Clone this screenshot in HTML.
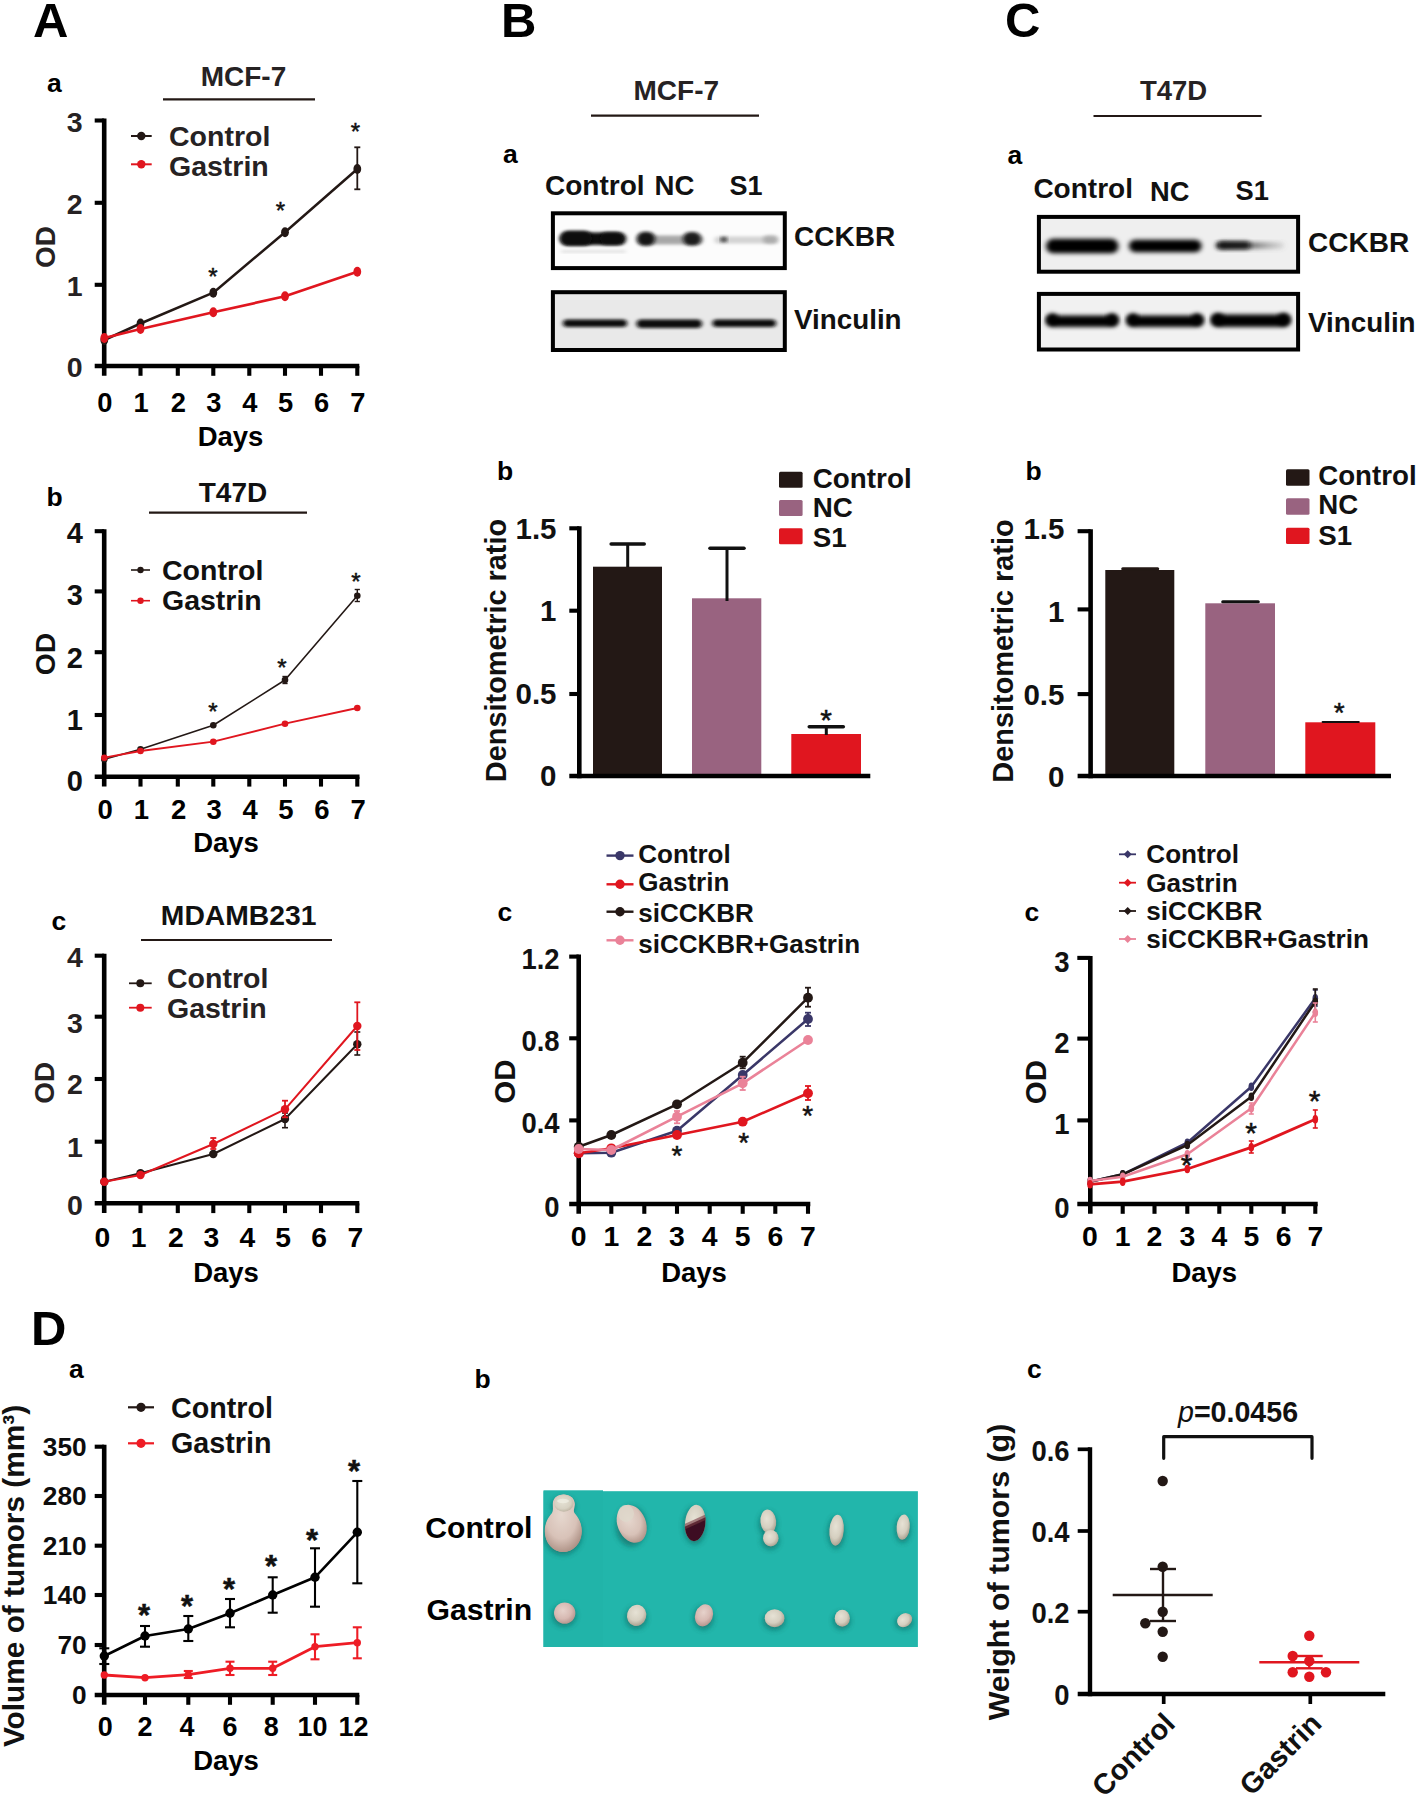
<!DOCTYPE html>
<html lang="en"><head><meta charset="utf-8"><title>Figure</title>
<style>html,body{margin:0;padding:0;background:#fff}svg{display:block}</style></head><body>
<svg width="1418" height="1796" viewBox="0 0 1418 1796" font-family='"Liberation Sans", Arial, sans-serif'>
<defs>
<filter id="b1" x="-20%" y="-50%" width="140%" height="200%"><feGaussianBlur stdDeviation="2.2 1.6"/></filter>
<filter id="b2" x="-20%" y="-50%" width="140%" height="200%"><feGaussianBlur stdDeviation="2.6 2.2"/></filter>
<filter id="b3" x="-20%" y="-20%" width="140%" height="140%"><feGaussianBlur stdDeviation="0.7"/></filter>
<filter id="b4" x="-30%" y="-30%" width="160%" height="160%"><feGaussianBlur stdDeviation="2.5"/></filter>
<radialGradient id="tum" cx="42%" cy="38%" r="65%"><stop offset="0" stop-color="#e6e2d5"/><stop offset="0.6" stop-color="#d5cfc0"/><stop offset="1" stop-color="#a89f8e"/></radialGradient>
<radialGradient id="tumb" cx="45%" cy="35%" r="70%"><stop offset="0" stop-color="#e6d8cf"/><stop offset="0.6" stop-color="#d8c2b8"/><stop offset="1" stop-color="#a98c80"/></radialGradient>
<radialGradient id="tumh" cx="45%" cy="40%" r="65%"><stop offset="0" stop-color="#e6e4d6"/><stop offset="0.65" stop-color="#d6d2c2"/><stop offset="1" stop-color="#b5ab98"/></radialGradient>
<radialGradient id="tump" cx="42%" cy="38%" r="65%"><stop offset="0" stop-color="#e6d2cb"/><stop offset="0.6" stop-color="#d7b9b2"/><stop offset="1" stop-color="#b3938c"/></radialGradient>
<linearGradient id="fade" x1="0" x2="1" y1="0" y2="0"><stop offset="0" stop-color="#222" stop-opacity="0.95"/><stop offset="0.5" stop-color="#333" stop-opacity="0.7"/><stop offset="1" stop-color="#666" stop-opacity="0.15"/></linearGradient>
</defs>
<rect width="1418" height="1796" fill="#fff"/>
<text x="33.0" y="37.0" font-size="49" font-weight="bold" text-anchor="start" fill="#000">A</text>
<text x="501.0" y="37.0" font-size="49" font-weight="bold" text-anchor="start" fill="#000">B</text>
<text x="1005.0" y="37.0" font-size="49" font-weight="bold" text-anchor="start" fill="#000">C</text>
<text x="31.0" y="1344.5" font-size="49" font-weight="bold" text-anchor="start" fill="#000">D</text>
<text x="47.0" y="91.7" font-size="26.5" font-weight="bold" text-anchor="start" fill="#000">a</text>
<text x="243.5" y="86.0" font-size="28" font-weight="bold" text-anchor="middle" fill="#262223">MCF-7</text>
<line x1="163.0" y1="99.3" x2="315.0" y2="99.3" stroke="#231815" stroke-width="2.2" stroke-linecap="butt"/>
<line x1="104.2" y1="118.5" x2="104.2" y2="375.8" stroke="#000" stroke-width="4.6" stroke-linecap="butt"/>
<line x1="94.7" y1="366.0" x2="359.3" y2="366.0" stroke="#000" stroke-width="4.6" stroke-linecap="butt"/>
<line x1="94.7" y1="120.5" x2="104.2" y2="120.5" stroke="#000" stroke-width="4.1" stroke-linecap="butt"/>
<line x1="94.7" y1="202.8" x2="104.2" y2="202.8" stroke="#000" stroke-width="4.1" stroke-linecap="butt"/>
<line x1="94.7" y1="284.8" x2="104.2" y2="284.8" stroke="#000" stroke-width="4.1" stroke-linecap="butt"/>
<line x1="140.5" y1="366.0" x2="140.5" y2="375.8" stroke="#000" stroke-width="4.1" stroke-linecap="butt"/>
<line x1="177.8" y1="366.0" x2="177.8" y2="375.8" stroke="#000" stroke-width="4.1" stroke-linecap="butt"/>
<line x1="213.3" y1="366.0" x2="213.3" y2="375.8" stroke="#000" stroke-width="4.1" stroke-linecap="butt"/>
<line x1="249.3" y1="366.0" x2="249.3" y2="375.8" stroke="#000" stroke-width="4.1" stroke-linecap="butt"/>
<line x1="285.0" y1="366.0" x2="285.0" y2="375.8" stroke="#000" stroke-width="4.1" stroke-linecap="butt"/>
<line x1="321.0" y1="366.0" x2="321.0" y2="375.8" stroke="#000" stroke-width="4.1" stroke-linecap="butt"/>
<line x1="357.3" y1="366.0" x2="357.3" y2="375.8" stroke="#000" stroke-width="4.1" stroke-linecap="butt"/>
<text x="82.6" y="131.5" font-size="28.5" font-weight="bold" text-anchor="end" fill="#262223">3</text>
<text x="82.6" y="213.8" font-size="28.5" font-weight="bold" text-anchor="end" fill="#262223">2</text>
<text x="82.6" y="295.8" font-size="28.5" font-weight="bold" text-anchor="end" fill="#262223">1</text>
<text x="82.6" y="377.0" font-size="28.5" font-weight="bold" text-anchor="end" fill="#262223">0</text>
<text x="0" y="0" transform="translate(104.9 411.6) scale(1.0 1)" font-size="27.3" font-weight="bold" text-anchor="middle" fill="#000">0</text>
<text x="0" y="0" transform="translate(141.1 411.6) scale(1.0 1)" font-size="27.3" font-weight="bold" text-anchor="middle" fill="#000">1</text>
<text x="0" y="0" transform="translate(178.4 411.6) scale(1.0 1)" font-size="27.3" font-weight="bold" text-anchor="middle" fill="#000">2</text>
<text x="0" y="0" transform="translate(213.9 411.6) scale(1.0 1)" font-size="27.3" font-weight="bold" text-anchor="middle" fill="#000">3</text>
<text x="0" y="0" transform="translate(249.9 411.6) scale(1.0 1)" font-size="27.3" font-weight="bold" text-anchor="middle" fill="#000">4</text>
<text x="0" y="0" transform="translate(285.6 411.6) scale(1.0 1)" font-size="27.3" font-weight="bold" text-anchor="middle" fill="#000">5</text>
<text x="0" y="0" transform="translate(321.6 411.6) scale(1.0 1)" font-size="27.3" font-weight="bold" text-anchor="middle" fill="#000">6</text>
<text x="0" y="0" transform="translate(357.9 411.6) scale(1.0 1)" font-size="27.3" font-weight="bold" text-anchor="middle" fill="#000">7</text>
<text x="230.5" y="446.0" font-size="27.5" font-weight="bold" text-anchor="middle" fill="#000">Days</text>
<text x="0" y="0" transform="translate(54.8 247.0) rotate(-90)" font-size="28" font-weight="bold" text-anchor="middle" fill="#262223">OD</text>
<line x1="131.0" y1="136.0" x2="151.7" y2="136.0" stroke="#231815" stroke-width="2" stroke-linecap="butt"/>
<circle cx="141.3" cy="136.0" r="4.2" fill="#231815"/>
<line x1="131.0" y1="164.3" x2="151.7" y2="164.3" stroke="#e0161f" stroke-width="2" stroke-linecap="butt"/>
<circle cx="141.3" cy="164.3" r="4.2" fill="#e0161f"/>
<text x="169.0" y="146.0" font-size="28.5" font-weight="bold" text-anchor="start" fill="#262223">Control</text>
<text x="169.0" y="175.5" font-size="28.5" font-weight="bold" text-anchor="start" fill="#262223">Gastrin</text>
<line x1="357.3" y1="147.3" x2="357.3" y2="189.3" stroke="#231815" stroke-width="1.8" stroke-linecap="butt"/>
<line x1="354.3" y1="147.3" x2="360.3" y2="147.3" stroke="#231815" stroke-width="1.8" stroke-linecap="butt"/>
<line x1="354.3" y1="189.3" x2="360.3" y2="189.3" stroke="#231815" stroke-width="1.8" stroke-linecap="butt"/>
<polyline points="104.3,340.0 140.5,323.5 213.3,292.7 285.0,232.3 357.3,169.0" fill="none" stroke="#231815" stroke-width="2.5" stroke-linejoin="round"/>
<ellipse cx="104.3" cy="340.0" rx="3.9" ry="5" fill="#231815"/>
<ellipse cx="140.5" cy="323.5" rx="3.9" ry="5" fill="#231815"/>
<ellipse cx="213.3" cy="292.7" rx="3.9" ry="5" fill="#231815"/>
<ellipse cx="285.0" cy="232.3" rx="3.9" ry="5" fill="#231815"/>
<ellipse cx="357.3" cy="169.0" rx="3.9" ry="5" fill="#231815"/>
<polyline points="104.3,338.0 140.5,329.0 213.3,312.3 285.0,296.3 357.3,271.7" fill="none" stroke="#e0161f" stroke-width="2.7" stroke-linejoin="round"/>
<ellipse cx="104.3" cy="338.0" rx="3.9" ry="5" fill="#e0161f"/>
<ellipse cx="140.5" cy="329.0" rx="3.9" ry="5" fill="#e0161f"/>
<ellipse cx="213.3" cy="312.3" rx="3.9" ry="5" fill="#e0161f"/>
<ellipse cx="285.0" cy="296.3" rx="3.9" ry="5" fill="#e0161f"/>
<ellipse cx="357.3" cy="271.7" rx="3.9" ry="5" fill="#e0161f"/>
<text x="213.0" y="285.1" font-size="24" font-weight="normal" text-anchor="middle" fill="#111" stroke="#111" stroke-width="0.5">*</text>
<text x="280.5" y="218.6" font-size="24" font-weight="normal" text-anchor="middle" fill="#111" stroke="#111" stroke-width="0.5">*</text>
<text x="355.5" y="139.6" font-size="24" font-weight="normal" text-anchor="middle" fill="#111" stroke="#111" stroke-width="0.5">*</text>
<text x="46.5" y="506.2" font-size="26.5" font-weight="bold" text-anchor="start" fill="#000">b</text>
<text x="233.0" y="501.5" font-size="28" font-weight="bold" text-anchor="middle" fill="#111">T47D</text>
<line x1="149.0" y1="512.7" x2="307.0" y2="512.7" stroke="#231815" stroke-width="2.2" stroke-linecap="butt"/>
<line x1="104.2" y1="529.2" x2="104.2" y2="786.6" stroke="#000" stroke-width="4.6" stroke-linecap="butt"/>
<line x1="94.7" y1="776.8" x2="359.5" y2="776.8" stroke="#000" stroke-width="4.6" stroke-linecap="butt"/>
<line x1="94.7" y1="531.2" x2="104.2" y2="531.2" stroke="#000" stroke-width="4.1" stroke-linecap="butt"/>
<line x1="94.7" y1="591.4" x2="104.2" y2="591.4" stroke="#000" stroke-width="4.1" stroke-linecap="butt"/>
<line x1="94.7" y1="652.2" x2="104.2" y2="652.2" stroke="#000" stroke-width="4.1" stroke-linecap="butt"/>
<line x1="94.7" y1="715.0" x2="104.2" y2="715.0" stroke="#000" stroke-width="4.1" stroke-linecap="butt"/>
<line x1="140.5" y1="776.8" x2="140.5" y2="786.6" stroke="#000" stroke-width="4.1" stroke-linecap="butt"/>
<line x1="177.8" y1="776.8" x2="177.8" y2="786.6" stroke="#000" stroke-width="4.1" stroke-linecap="butt"/>
<line x1="213.3" y1="776.8" x2="213.3" y2="786.6" stroke="#000" stroke-width="4.1" stroke-linecap="butt"/>
<line x1="249.3" y1="776.8" x2="249.3" y2="786.6" stroke="#000" stroke-width="4.1" stroke-linecap="butt"/>
<line x1="285.0" y1="776.8" x2="285.0" y2="786.6" stroke="#000" stroke-width="4.1" stroke-linecap="butt"/>
<line x1="321.0" y1="776.8" x2="321.0" y2="786.6" stroke="#000" stroke-width="4.1" stroke-linecap="butt"/>
<line x1="357.3" y1="776.8" x2="357.3" y2="786.6" stroke="#000" stroke-width="4.1" stroke-linecap="butt"/>
<text x="82.8" y="542.8" font-size="29" font-weight="bold" text-anchor="end" fill="#111">4</text>
<text x="82.8" y="605.0" font-size="29" font-weight="bold" text-anchor="end" fill="#111">3</text>
<text x="82.8" y="667.6" font-size="29" font-weight="bold" text-anchor="end" fill="#111">2</text>
<text x="82.8" y="729.6" font-size="29" font-weight="bold" text-anchor="end" fill="#111">1</text>
<text x="82.8" y="791.0" font-size="29" font-weight="bold" text-anchor="end" fill="#111">0</text>
<text x="0" y="0" transform="translate(105.1 818.8) scale(1.0 1)" font-size="27.5" font-weight="bold" text-anchor="middle" fill="#000">0</text>
<text x="0" y="0" transform="translate(141.3 818.8) scale(1.0 1)" font-size="27.5" font-weight="bold" text-anchor="middle" fill="#000">1</text>
<text x="0" y="0" transform="translate(178.6 818.8) scale(1.0 1)" font-size="27.5" font-weight="bold" text-anchor="middle" fill="#000">2</text>
<text x="0" y="0" transform="translate(214.1 818.8) scale(1.0 1)" font-size="27.5" font-weight="bold" text-anchor="middle" fill="#000">3</text>
<text x="0" y="0" transform="translate(250.1 818.8) scale(1.0 1)" font-size="27.5" font-weight="bold" text-anchor="middle" fill="#000">4</text>
<text x="0" y="0" transform="translate(285.8 818.8) scale(1.0 1)" font-size="27.5" font-weight="bold" text-anchor="middle" fill="#000">5</text>
<text x="0" y="0" transform="translate(321.8 818.8) scale(1.0 1)" font-size="27.5" font-weight="bold" text-anchor="middle" fill="#000">6</text>
<text x="0" y="0" transform="translate(358.1 818.8) scale(1.0 1)" font-size="27.5" font-weight="bold" text-anchor="middle" fill="#000">7</text>
<text x="226.0" y="851.7" font-size="27.5" font-weight="bold" text-anchor="middle" fill="#000">Days</text>
<text x="0" y="0" transform="translate(54.8 654.0) rotate(-90)" font-size="28.3" font-weight="bold" text-anchor="middle" fill="#111">OD</text>
<line x1="131.0" y1="570.0" x2="150.0" y2="570.0" stroke="#231815" stroke-width="1.6" stroke-linecap="butt"/>
<circle cx="140.5" cy="570.0" r="3.2" fill="#231815"/>
<line x1="131.0" y1="600.7" x2="150.0" y2="600.7" stroke="#e0161f" stroke-width="1.6" stroke-linecap="butt"/>
<circle cx="140.5" cy="600.7" r="3.2" fill="#e0161f"/>
<text x="162.0" y="579.5" font-size="28.5" font-weight="bold" text-anchor="start" fill="#111">Control</text>
<text x="162.0" y="610.0" font-size="28.5" font-weight="bold" text-anchor="start" fill="#111">Gastrin</text>
<line x1="357.3" y1="589.5" x2="357.3" y2="601.5" stroke="#231815" stroke-width="1.4" stroke-linecap="butt"/>
<line x1="354.7" y1="589.5" x2="359.9" y2="589.5" stroke="#231815" stroke-width="1.4" stroke-linecap="butt"/>
<line x1="354.7" y1="601.5" x2="359.9" y2="601.5" stroke="#231815" stroke-width="1.4" stroke-linecap="butt"/>
<line x1="285.0" y1="676.5" x2="285.0" y2="683.5" stroke="#231815" stroke-width="1.4" stroke-linecap="butt"/>
<line x1="282.4" y1="676.5" x2="287.6" y2="676.5" stroke="#231815" stroke-width="1.4" stroke-linecap="butt"/>
<line x1="282.4" y1="683.5" x2="287.6" y2="683.5" stroke="#231815" stroke-width="1.4" stroke-linecap="butt"/>
<polyline points="104.3,759.3 140.5,749.3 213.3,725.3 285.0,680.0 357.3,595.7" fill="none" stroke="#231815" stroke-width="1.6" stroke-linejoin="round"/>
<circle cx="104.3" cy="759.3" r="3.3" fill="#231815"/>
<circle cx="140.5" cy="749.3" r="3.3" fill="#231815"/>
<circle cx="213.3" cy="725.3" r="3.3" fill="#231815"/>
<circle cx="285.0" cy="680.0" r="3.3" fill="#231815"/>
<circle cx="357.3" cy="595.7" r="3.3" fill="#231815"/>
<polyline points="104.3,757.7 140.5,751.0 213.3,741.7 285.0,723.7 357.3,708.0" fill="none" stroke="#e0161f" stroke-width="1.8" stroke-linejoin="round"/>
<circle cx="104.3" cy="757.7" r="3.3" fill="#e0161f"/>
<circle cx="140.5" cy="751.0" r="3.3" fill="#e0161f"/>
<circle cx="213.3" cy="741.7" r="3.3" fill="#e0161f"/>
<circle cx="285.0" cy="723.7" r="3.3" fill="#e0161f"/>
<circle cx="357.3" cy="708.0" r="3.3" fill="#e0161f"/>
<text x="213.0" y="719.6" font-size="24" font-weight="normal" text-anchor="middle" fill="#111" stroke="#111" stroke-width="0.5">*</text>
<text x="282.0" y="675.6" font-size="24" font-weight="normal" text-anchor="middle" fill="#111" stroke="#111" stroke-width="0.5">*</text>
<text x="356.0" y="589.6" font-size="24" font-weight="normal" text-anchor="middle" fill="#111" stroke="#111" stroke-width="0.5">*</text>
<text x="51.5" y="929.7" font-size="26.5" font-weight="bold" text-anchor="start" fill="#000">c</text>
<text x="238.7" y="924.5" font-size="28.3" font-weight="bold" text-anchor="middle" fill="#111">MDAMB231</text>
<line x1="141.0" y1="940.0" x2="332.0" y2="940.0" stroke="#231815" stroke-width="2.2" stroke-linecap="butt"/>
<line x1="104.2" y1="953.7" x2="104.2" y2="1213.1" stroke="#000" stroke-width="4.6" stroke-linecap="butt"/>
<line x1="94.7" y1="1203.3" x2="359.3" y2="1203.3" stroke="#000" stroke-width="4.6" stroke-linecap="butt"/>
<line x1="94.7" y1="955.7" x2="104.2" y2="955.7" stroke="#000" stroke-width="4.1" stroke-linecap="butt"/>
<line x1="94.7" y1="1016.7" x2="104.2" y2="1016.7" stroke="#000" stroke-width="4.1" stroke-linecap="butt"/>
<line x1="94.7" y1="1079.0" x2="104.2" y2="1079.0" stroke="#000" stroke-width="4.1" stroke-linecap="butt"/>
<line x1="94.7" y1="1141.7" x2="104.2" y2="1141.7" stroke="#000" stroke-width="4.1" stroke-linecap="butt"/>
<line x1="140.5" y1="1203.3" x2="140.5" y2="1213.1" stroke="#000" stroke-width="4.1" stroke-linecap="butt"/>
<line x1="177.8" y1="1203.3" x2="177.8" y2="1213.1" stroke="#000" stroke-width="4.1" stroke-linecap="butt"/>
<line x1="213.3" y1="1203.3" x2="213.3" y2="1213.1" stroke="#000" stroke-width="4.1" stroke-linecap="butt"/>
<line x1="249.3" y1="1203.3" x2="249.3" y2="1213.1" stroke="#000" stroke-width="4.1" stroke-linecap="butt"/>
<line x1="285.0" y1="1203.3" x2="285.0" y2="1213.1" stroke="#000" stroke-width="4.1" stroke-linecap="butt"/>
<line x1="321.0" y1="1203.3" x2="321.0" y2="1213.1" stroke="#000" stroke-width="4.1" stroke-linecap="butt"/>
<line x1="357.3" y1="1203.3" x2="357.3" y2="1213.1" stroke="#000" stroke-width="4.1" stroke-linecap="butt"/>
<text x="82.8" y="966.9" font-size="28.5" font-weight="bold" text-anchor="end" fill="#262223">4</text>
<text x="82.8" y="1032.9" font-size="28.5" font-weight="bold" text-anchor="end" fill="#262223">3</text>
<text x="82.8" y="1094.2" font-size="28.5" font-weight="bold" text-anchor="end" fill="#262223">2</text>
<text x="82.8" y="1156.6" font-size="28.5" font-weight="bold" text-anchor="end" fill="#262223">1</text>
<text x="82.8" y="1215.3" font-size="28.5" font-weight="bold" text-anchor="end" fill="#262223">0</text>
<text x="0" y="0" transform="translate(102.3 1246.5) scale(1.0 1)" font-size="28.3" font-weight="bold" text-anchor="middle" fill="#000">0</text>
<text x="0" y="0" transform="translate(138.5 1246.5) scale(1.0 1)" font-size="28.3" font-weight="bold" text-anchor="middle" fill="#000">1</text>
<text x="0" y="0" transform="translate(175.8 1246.5) scale(1.0 1)" font-size="28.3" font-weight="bold" text-anchor="middle" fill="#000">2</text>
<text x="0" y="0" transform="translate(211.3 1246.5) scale(1.0 1)" font-size="28.3" font-weight="bold" text-anchor="middle" fill="#000">3</text>
<text x="0" y="0" transform="translate(247.3 1246.5) scale(1.0 1)" font-size="28.3" font-weight="bold" text-anchor="middle" fill="#000">4</text>
<text x="0" y="0" transform="translate(283.0 1246.5) scale(1.0 1)" font-size="28.3" font-weight="bold" text-anchor="middle" fill="#000">5</text>
<text x="0" y="0" transform="translate(319.0 1246.5) scale(1.0 1)" font-size="28.3" font-weight="bold" text-anchor="middle" fill="#000">6</text>
<text x="0" y="0" transform="translate(355.3 1246.5) scale(1.0 1)" font-size="28.3" font-weight="bold" text-anchor="middle" fill="#000">7</text>
<text x="226.0" y="1281.7" font-size="27.5" font-weight="bold" text-anchor="middle" fill="#000">Days</text>
<text x="0" y="0" transform="translate(54.3 1082.7) rotate(-90)" font-size="28" font-weight="bold" text-anchor="middle" fill="#262223">OD</text>
<line x1="129.0" y1="983.3" x2="151.7" y2="983.3" stroke="#231815" stroke-width="1.8" stroke-linecap="butt"/>
<circle cx="140.3" cy="983.3" r="4" fill="#231815"/>
<line x1="129.0" y1="1007.7" x2="151.7" y2="1007.7" stroke="#e0161f" stroke-width="1.8" stroke-linecap="butt"/>
<circle cx="140.3" cy="1007.7" r="4" fill="#e0161f"/>
<text x="167.0" y="987.5" font-size="28.5" font-weight="bold" text-anchor="start" fill="#262223">Control</text>
<text x="167.0" y="1018.3" font-size="28.5" font-weight="bold" text-anchor="start" fill="#262223">Gastrin</text>
<line x1="357.3" y1="1032.0" x2="357.3" y2="1055.0" stroke="#231815" stroke-width="1.6" stroke-linecap="butt"/>
<line x1="354.3" y1="1032.0" x2="360.3" y2="1032.0" stroke="#231815" stroke-width="1.6" stroke-linecap="butt"/>
<line x1="354.3" y1="1055.0" x2="360.3" y2="1055.0" stroke="#231815" stroke-width="1.6" stroke-linecap="butt"/>
<line x1="285.0" y1="1113.0" x2="285.0" y2="1127.7" stroke="#231815" stroke-width="1.6" stroke-linecap="butt"/>
<line x1="282.0" y1="1113.0" x2="288.0" y2="1113.0" stroke="#231815" stroke-width="1.6" stroke-linecap="butt"/>
<line x1="282.0" y1="1127.7" x2="288.0" y2="1127.7" stroke="#231815" stroke-width="1.6" stroke-linecap="butt"/>
<polyline points="104.3,1181.7 140.5,1173.3 213.3,1154.0 285.0,1119.0 357.3,1044.3" fill="none" stroke="#231815" stroke-width="2" stroke-linejoin="round"/>
<circle cx="104.3" cy="1181.7" r="4.2" fill="#231815"/>
<circle cx="140.5" cy="1173.3" r="4.2" fill="#231815"/>
<circle cx="213.3" cy="1154.0" r="4.2" fill="#231815"/>
<circle cx="285.0" cy="1119.0" r="4.2" fill="#231815"/>
<circle cx="357.3" cy="1044.3" r="4.2" fill="#231815"/>
<line x1="357.3" y1="1002.3" x2="357.3" y2="1050.0" stroke="#e0161f" stroke-width="1.8" stroke-linecap="butt"/>
<line x1="354.3" y1="1002.3" x2="360.3" y2="1002.3" stroke="#e0161f" stroke-width="1.8" stroke-linecap="butt"/>
<line x1="354.3" y1="1050.0" x2="360.3" y2="1050.0" stroke="#e0161f" stroke-width="1.8" stroke-linecap="butt"/>
<line x1="285.0" y1="1100.7" x2="285.0" y2="1117.3" stroke="#e0161f" stroke-width="1.8" stroke-linecap="butt"/>
<line x1="282.0" y1="1100.7" x2="288.0" y2="1100.7" stroke="#e0161f" stroke-width="1.8" stroke-linecap="butt"/>
<line x1="282.0" y1="1117.3" x2="288.0" y2="1117.3" stroke="#e0161f" stroke-width="1.8" stroke-linecap="butt"/>
<line x1="213.3" y1="1138.0" x2="213.3" y2="1149.0" stroke="#e0161f" stroke-width="1.8" stroke-linecap="butt"/>
<line x1="210.3" y1="1138.0" x2="216.3" y2="1138.0" stroke="#e0161f" stroke-width="1.8" stroke-linecap="butt"/>
<line x1="210.3" y1="1149.0" x2="216.3" y2="1149.0" stroke="#e0161f" stroke-width="1.8" stroke-linecap="butt"/>
<polyline points="104.3,1181.7 140.5,1175.0 213.3,1144.0 285.0,1109.3 357.3,1026.0" fill="none" stroke="#e0161f" stroke-width="2" stroke-linejoin="round"/>
<circle cx="104.3" cy="1181.7" r="4.2" fill="#e0161f"/>
<circle cx="140.5" cy="1175.0" r="4.2" fill="#e0161f"/>
<circle cx="213.3" cy="1144.0" r="4.2" fill="#e0161f"/>
<circle cx="285.0" cy="1109.3" r="4.2" fill="#e0161f"/>
<circle cx="357.3" cy="1026.0" r="4.2" fill="#e0161f"/>
<text x="69.0" y="1378.4" font-size="26.5" font-weight="bold" text-anchor="start" fill="#000">a</text>
<line x1="128.0" y1="1407.3" x2="154.0" y2="1407.3" stroke="#231815" stroke-width="2.2" stroke-linecap="butt"/>
<circle cx="141.0" cy="1407.3" r="4.6" fill="#231815"/>
<line x1="128.0" y1="1443.3" x2="154.0" y2="1443.3" stroke="#ee1c25" stroke-width="2.2" stroke-linecap="butt"/>
<circle cx="141.0" cy="1443.3" r="4.6" fill="#ee1c25"/>
<text x="171.0" y="1417.7" font-size="28.7" font-weight="bold" text-anchor="start" fill="#111">Control</text>
<text x="171.0" y="1452.7" font-size="28.7" font-weight="bold" text-anchor="start" fill="#111">Gastrin</text>
<line x1="104.2" y1="1444.7" x2="104.2" y2="1704.8" stroke="#000" stroke-width="4.6" stroke-linecap="butt"/>
<line x1="94.7" y1="1695.0" x2="359.3" y2="1695.0" stroke="#000" stroke-width="4.6" stroke-linecap="butt"/>
<line x1="94.7" y1="1446.7" x2="104.2" y2="1446.7" stroke="#000" stroke-width="4.1" stroke-linecap="butt"/>
<line x1="94.7" y1="1496.0" x2="104.2" y2="1496.0" stroke="#000" stroke-width="4.1" stroke-linecap="butt"/>
<line x1="94.7" y1="1545.7" x2="104.2" y2="1545.7" stroke="#000" stroke-width="4.1" stroke-linecap="butt"/>
<line x1="94.7" y1="1595.0" x2="104.2" y2="1595.0" stroke="#000" stroke-width="4.1" stroke-linecap="butt"/>
<line x1="94.7" y1="1645.0" x2="104.2" y2="1645.0" stroke="#000" stroke-width="4.1" stroke-linecap="butt"/>
<line x1="145.0" y1="1695.0" x2="145.0" y2="1704.8" stroke="#000" stroke-width="4.1" stroke-linecap="butt"/>
<line x1="188.3" y1="1695.0" x2="188.3" y2="1704.8" stroke="#000" stroke-width="4.1" stroke-linecap="butt"/>
<line x1="230.0" y1="1695.0" x2="230.0" y2="1704.8" stroke="#000" stroke-width="4.1" stroke-linecap="butt"/>
<line x1="272.7" y1="1695.0" x2="272.7" y2="1704.8" stroke="#000" stroke-width="4.1" stroke-linecap="butt"/>
<line x1="315.0" y1="1695.0" x2="315.0" y2="1704.8" stroke="#000" stroke-width="4.1" stroke-linecap="butt"/>
<line x1="357.3" y1="1695.0" x2="357.3" y2="1704.8" stroke="#000" stroke-width="4.1" stroke-linecap="butt"/>
<text x="0" y="0" transform="translate(86.6 1455.7) scale(0.99 1)" font-size="26.5" font-weight="bold" text-anchor="end" fill="#0d0d0d">350</text>
<text x="0" y="0" transform="translate(86.6 1505.0) scale(0.99 1)" font-size="26.5" font-weight="bold" text-anchor="end" fill="#0d0d0d">280</text>
<text x="0" y="0" transform="translate(86.6 1554.7) scale(0.99 1)" font-size="26.5" font-weight="bold" text-anchor="end" fill="#0d0d0d">210</text>
<text x="0" y="0" transform="translate(86.6 1604.0) scale(0.99 1)" font-size="26.5" font-weight="bold" text-anchor="end" fill="#0d0d0d">140</text>
<text x="0" y="0" transform="translate(86.6 1654.0) scale(0.99 1)" font-size="26.5" font-weight="bold" text-anchor="end" fill="#0d0d0d">70</text>
<text x="0" y="0" transform="translate(86.6 1704.0) scale(0.99 1)" font-size="26.5" font-weight="bold" text-anchor="end" fill="#0d0d0d">0</text>
<text x="0" y="0" transform="translate(105.3 1736.3) scale(0.98 1)" font-size="27.5" font-weight="bold" text-anchor="middle" fill="#000">0</text>
<text x="0" y="0" transform="translate(145.0 1736.3) scale(0.98 1)" font-size="27.5" font-weight="bold" text-anchor="middle" fill="#000">2</text>
<text x="0" y="0" transform="translate(187.1 1736.3) scale(0.98 1)" font-size="27.5" font-weight="bold" text-anchor="middle" fill="#000">4</text>
<text x="0" y="0" transform="translate(230.0 1736.3) scale(0.98 1)" font-size="27.5" font-weight="bold" text-anchor="middle" fill="#000">6</text>
<text x="0" y="0" transform="translate(271.2 1736.3) scale(0.98 1)" font-size="27.5" font-weight="bold" text-anchor="middle" fill="#000">8</text>
<text x="0" y="0" transform="translate(312.5 1736.3) scale(0.98 1)" font-size="27.5" font-weight="bold" text-anchor="middle" fill="#000">10</text>
<text x="0" y="0" transform="translate(353.6 1736.3) scale(0.98 1)" font-size="27.5" font-weight="bold" text-anchor="middle" fill="#000">12</text>
<text x="226.0" y="1770.0" font-size="27.5" font-weight="bold" text-anchor="middle" fill="#000">Days</text>
<text x="0" y="0" transform="translate(24.0 1576.0) rotate(-90)" font-size="29.8" font-weight="bold" text-anchor="middle" fill="#111">Volume of tumors (mm³)</text>
<line x1="104.3" y1="1648.3" x2="104.3" y2="1664.0" stroke="#000" stroke-width="2.1" stroke-linecap="butt"/>
<line x1="99.3" y1="1648.3" x2="109.3" y2="1648.3" stroke="#000" stroke-width="2.1" stroke-linecap="butt"/>
<line x1="99.3" y1="1664.0" x2="109.3" y2="1664.0" stroke="#000" stroke-width="2.1" stroke-linecap="butt"/>
<line x1="145.0" y1="1626.0" x2="145.0" y2="1646.7" stroke="#000" stroke-width="2.1" stroke-linecap="butt"/>
<line x1="140.0" y1="1626.0" x2="150.0" y2="1626.0" stroke="#000" stroke-width="2.1" stroke-linecap="butt"/>
<line x1="140.0" y1="1646.7" x2="150.0" y2="1646.7" stroke="#000" stroke-width="2.1" stroke-linecap="butt"/>
<line x1="188.3" y1="1616.0" x2="188.3" y2="1641.0" stroke="#000" stroke-width="2.1" stroke-linecap="butt"/>
<line x1="183.3" y1="1616.0" x2="193.3" y2="1616.0" stroke="#000" stroke-width="2.1" stroke-linecap="butt"/>
<line x1="183.3" y1="1641.0" x2="193.3" y2="1641.0" stroke="#000" stroke-width="2.1" stroke-linecap="butt"/>
<line x1="230.0" y1="1599.0" x2="230.0" y2="1627.3" stroke="#000" stroke-width="2.1" stroke-linecap="butt"/>
<line x1="225.0" y1="1599.0" x2="235.0" y2="1599.0" stroke="#000" stroke-width="2.1" stroke-linecap="butt"/>
<line x1="225.0" y1="1627.3" x2="235.0" y2="1627.3" stroke="#000" stroke-width="2.1" stroke-linecap="butt"/>
<line x1="272.7" y1="1577.3" x2="272.7" y2="1612.7" stroke="#000" stroke-width="2.1" stroke-linecap="butt"/>
<line x1="267.7" y1="1577.3" x2="277.7" y2="1577.3" stroke="#000" stroke-width="2.1" stroke-linecap="butt"/>
<line x1="267.7" y1="1612.7" x2="277.7" y2="1612.7" stroke="#000" stroke-width="2.1" stroke-linecap="butt"/>
<line x1="315.0" y1="1548.3" x2="315.0" y2="1606.7" stroke="#000" stroke-width="2.1" stroke-linecap="butt"/>
<line x1="310.0" y1="1548.3" x2="320.0" y2="1548.3" stroke="#000" stroke-width="2.1" stroke-linecap="butt"/>
<line x1="310.0" y1="1606.7" x2="320.0" y2="1606.7" stroke="#000" stroke-width="2.1" stroke-linecap="butt"/>
<line x1="357.3" y1="1481.0" x2="357.3" y2="1583.3" stroke="#000" stroke-width="2.1" stroke-linecap="butt"/>
<line x1="352.3" y1="1481.0" x2="362.3" y2="1481.0" stroke="#000" stroke-width="2.1" stroke-linecap="butt"/>
<line x1="352.3" y1="1583.3" x2="362.3" y2="1583.3" stroke="#000" stroke-width="2.1" stroke-linecap="butt"/>
<polyline points="104.3,1656.0 145.0,1636.0 188.3,1629.0 230.0,1613.3 272.7,1595.0 315.0,1577.3 357.3,1532.3" fill="none" stroke="#000" stroke-width="2.6" stroke-linejoin="round"/>
<circle cx="104.3" cy="1656.0" r="4.7" fill="#000"/>
<circle cx="145.0" cy="1636.0" r="4.7" fill="#000"/>
<circle cx="188.3" cy="1629.0" r="4.7" fill="#000"/>
<circle cx="230.0" cy="1613.3" r="4.7" fill="#000"/>
<circle cx="272.7" cy="1595.0" r="4.7" fill="#000"/>
<circle cx="315.0" cy="1577.3" r="4.7" fill="#000"/>
<circle cx="357.3" cy="1532.3" r="4.7" fill="#000"/>
<line x1="188.3" y1="1671.0" x2="188.3" y2="1678.0" stroke="#ee1c25" stroke-width="2.1" stroke-linecap="butt"/>
<line x1="183.8" y1="1671.0" x2="192.8" y2="1671.0" stroke="#ee1c25" stroke-width="2.1" stroke-linecap="butt"/>
<line x1="183.8" y1="1678.0" x2="192.8" y2="1678.0" stroke="#ee1c25" stroke-width="2.1" stroke-linecap="butt"/>
<line x1="230.0" y1="1661.7" x2="230.0" y2="1675.0" stroke="#ee1c25" stroke-width="2.1" stroke-linecap="butt"/>
<line x1="225.5" y1="1661.7" x2="234.5" y2="1661.7" stroke="#ee1c25" stroke-width="2.1" stroke-linecap="butt"/>
<line x1="225.5" y1="1675.0" x2="234.5" y2="1675.0" stroke="#ee1c25" stroke-width="2.1" stroke-linecap="butt"/>
<line x1="272.7" y1="1661.7" x2="272.7" y2="1675.0" stroke="#ee1c25" stroke-width="2.1" stroke-linecap="butt"/>
<line x1="268.2" y1="1661.7" x2="277.2" y2="1661.7" stroke="#ee1c25" stroke-width="2.1" stroke-linecap="butt"/>
<line x1="268.2" y1="1675.0" x2="277.2" y2="1675.0" stroke="#ee1c25" stroke-width="2.1" stroke-linecap="butt"/>
<line x1="315.0" y1="1634.3" x2="315.0" y2="1659.3" stroke="#ee1c25" stroke-width="2.1" stroke-linecap="butt"/>
<line x1="310.5" y1="1634.3" x2="319.5" y2="1634.3" stroke="#ee1c25" stroke-width="2.1" stroke-linecap="butt"/>
<line x1="310.5" y1="1659.3" x2="319.5" y2="1659.3" stroke="#ee1c25" stroke-width="2.1" stroke-linecap="butt"/>
<line x1="357.3" y1="1627.3" x2="357.3" y2="1658.3" stroke="#ee1c25" stroke-width="2.1" stroke-linecap="butt"/>
<line x1="352.8" y1="1627.3" x2="361.8" y2="1627.3" stroke="#ee1c25" stroke-width="2.1" stroke-linecap="butt"/>
<line x1="352.8" y1="1658.3" x2="361.8" y2="1658.3" stroke="#ee1c25" stroke-width="2.1" stroke-linecap="butt"/>
<polyline points="104.3,1675.0 145.0,1677.7 188.3,1674.7 230.0,1668.3 272.7,1668.3 315.0,1646.7 357.3,1642.7" fill="none" stroke="#ee1c25" stroke-width="2.8" stroke-linejoin="round"/>
<circle cx="104.3" cy="1675.0" r="3.7" fill="#ee1c25"/>
<circle cx="145.0" cy="1677.7" r="3.7" fill="#ee1c25"/>
<circle cx="188.3" cy="1674.7" r="3.7" fill="#ee1c25"/>
<circle cx="230.0" cy="1668.3" r="3.7" fill="#ee1c25"/>
<circle cx="272.7" cy="1668.3" r="3.7" fill="#ee1c25"/>
<circle cx="315.0" cy="1646.7" r="3.7" fill="#ee1c25"/>
<circle cx="357.3" cy="1642.7" r="3.7" fill="#ee1c25"/>
<text x="144.0" y="1625.5" font-size="31" font-weight="bold" text-anchor="middle" fill="#111" stroke="#111" stroke-width="0.5">*</text>
<text x="187.0" y="1616.5" font-size="31" font-weight="bold" text-anchor="middle" fill="#111" stroke="#111" stroke-width="0.5">*</text>
<text x="229.0" y="1599.5" font-size="31" font-weight="bold" text-anchor="middle" fill="#111" stroke="#111" stroke-width="0.5">*</text>
<text x="271.0" y="1576.5" font-size="31" font-weight="bold" text-anchor="middle" fill="#111" stroke="#111" stroke-width="0.5">*</text>
<text x="312.0" y="1550.5" font-size="31" font-weight="bold" text-anchor="middle" fill="#111" stroke="#111" stroke-width="0.5">*</text>
<text x="354.0" y="1482.2" font-size="31" font-weight="bold" text-anchor="middle" fill="#111" stroke="#111" stroke-width="0.5">*</text>
<text x="676.3" y="100.0" font-size="28" font-weight="bold" text-anchor="middle" fill="#262223">MCF-7</text>
<line x1="591.0" y1="115.7" x2="759.0" y2="115.7" stroke="#231815" stroke-width="2.2" stroke-linecap="butt"/>
<text x="503.0" y="163.3" font-size="26.5" font-weight="bold" text-anchor="start" fill="#000">a</text>
<text x="545.0" y="194.6" font-size="28" font-weight="bold" text-anchor="start" fill="#111">Control</text>
<text x="654.5" y="194.6" font-size="27.6" font-weight="bold" text-anchor="start" fill="#111">NC</text>
<text x="729.5" y="194.6" font-size="27" font-weight="bold" text-anchor="start" fill="#111">S1</text>
<text x="794.0" y="245.7" font-size="28" font-weight="bold" text-anchor="start" fill="#111">CCKBR</text>
<text x="794.0" y="329.3" font-size="27.8" font-weight="bold" text-anchor="start" fill="#111">Vinculin</text>
<clipPath id="cb1"><rect x="551" y="211.3" width="235.79999999999995" height="58.80000000000001"/></clipPath>
<rect x="551" y="211.3" width="235.79999999999995" height="58.80000000000001" fill="#fcfcfc"/>
<g clip-path="url(#cb1)">
<rect x="560.5" y="232.6" width="65.5" height="12.5" rx="6.2" fill="#0a0a0a" opacity="1" filter="url(#b1)"/>
<rect x="560.5" y="230.8" width="31.5" height="15.0" rx="7.5" fill="#0a0a0a" opacity="0.95" filter="url(#b1)"/>
<rect x="600.0" y="232.1" width="23.0" height="13.0" rx="6.5" fill="#0a0a0a" opacity="0.8" filter="url(#b1)"/>
<rect x="561.0" y="250.2" width="65.0" height="2.5" rx="1.2" fill="#999" opacity="0.3" filter="url(#b1)"/>
<rect x="637.0" y="235.5" width="66.0" height="9.0" rx="4.5" fill="#555" opacity="0.5" filter="url(#b1)"/>
<rect x="637.0" y="231.8" width="18.0" height="14.0" rx="7.0" fill="#0c0c0c" opacity="0.95" filter="url(#b1)"/>
<rect x="683.0" y="232.1" width="18.0" height="13.5" rx="6.8" fill="#111" opacity="0.9" filter="url(#b1)"/>
<rect x="714.5" y="236.5" width="63.5" height="7.0" rx="3.5" fill="#888" opacity="0.35" filter="url(#b1)"/>
<rect x="720.5" y="236.5" width="6.5" height="6.0" rx="3.0" fill="#222" opacity="0.8" filter="url(#b1)"/>
<rect x="763.0" y="235.0" width="15.0" height="9.0" rx="4.5" fill="#666" opacity="0.35" filter="url(#b1)"/>
</g>
<rect x="552.9" y="213.3" width="231.89999999999998" height="54.80000000000001" fill="none" stroke="#000" stroke-width="4"/>
<clipPath id="cb2"><rect x="551" y="290.2" width="235.79999999999995" height="61.80000000000001"/></clipPath>
<rect x="551" y="290.2" width="235.79999999999995" height="61.80000000000001" fill="#e9e9e9"/>
<g clip-path="url(#cb2)">
<rect x="563.0" y="319.6" width="64.0" height="7.5" rx="3.8" fill="#0a0a0a" opacity="1" filter="url(#b1)"/>
<rect x="636.5" y="319.4" width="65.5" height="8.5" rx="4.2" fill="#0a0a0a" opacity="1" filter="url(#b1)"/>
<rect x="712.5" y="319.4" width="63.5" height="7.5" rx="3.8" fill="#0a0a0a" opacity="1" filter="url(#b1)"/>
</g>
<rect x="552.9" y="292.2" width="231.89999999999998" height="57.80000000000001" fill="none" stroke="#000" stroke-width="4"/>
<text x="1173.5" y="100.0" font-size="27.5" font-weight="bold" text-anchor="middle" fill="#262223">T47D</text>
<line x1="1093.5" y1="116.0" x2="1261.6" y2="116.0" stroke="#231815" stroke-width="2.2" stroke-linecap="butt"/>
<text x="1007.5" y="163.8" font-size="26.5" font-weight="bold" text-anchor="start" fill="#000">a</text>
<text x="1033.4" y="198.3" font-size="28" font-weight="bold" text-anchor="start" fill="#111">Control</text>
<text x="1150.0" y="201.0" font-size="27.3" font-weight="bold" text-anchor="start" fill="#111">NC</text>
<text x="1235.6" y="200.0" font-size="27.3" font-weight="bold" text-anchor="start" fill="#111">S1</text>
<text x="1308.0" y="251.7" font-size="28" font-weight="bold" text-anchor="start" fill="#111">CCKBR</text>
<text x="1308.0" y="331.7" font-size="27.8" font-weight="bold" text-anchor="start" fill="#111">Vinculin</text>
<clipPath id="cc1"><rect x="1037" y="215" width="263" height="58.60000000000002"/></clipPath>
<rect x="1037" y="215" width="263" height="58.60000000000002" fill="#efefef"/>
<g clip-path="url(#cc1)">
<rect x="1046.0" y="238.8" width="72.5" height="14.5" rx="7.2" fill="#030303" opacity="1" filter="url(#b2)"/>
<rect x="1129.0" y="239.8" width="72.5" height="12.5" rx="6.2" fill="#050505" opacity="1" filter="url(#b2)"/>
<rect x="1216" y="242.3" width="68" height="6.5" rx="3.2" fill="url(#fade)" filter="url(#b2)"/>
<rect x="1218.0" y="241.6" width="32.0" height="7.5" rx="3.8" fill="#0a0a0a" opacity="0.9" filter="url(#b2)"/>
</g>
<rect x="1038.9" y="216.9" width="259.1999999999998" height="54.79999999999998" fill="none" stroke="#000" stroke-width="4"/>
<clipPath id="cc2"><rect x="1037" y="292" width="263" height="59.39999999999998"/></clipPath>
<rect x="1037" y="292" width="263" height="59.39999999999998" fill="#f1f1f1"/>
<g clip-path="url(#cc2)">
<rect x="1046.0" y="315.4" width="72.5" height="11.5" rx="5.8" fill="#030303" opacity="1" filter="url(#b2)"/>
<circle cx="1052.2" cy="319.0" r="5.8" fill="#030303" filter="url(#b2)"/>
<circle cx="1112.2" cy="319.0" r="5.8" fill="#030303" filter="url(#b2)"/>
<rect x="1126.5" y="315.4" width="77.0" height="11.5" rx="5.8" fill="#030303" opacity="1" filter="url(#b2)"/>
<circle cx="1132.8" cy="319.0" r="5.8" fill="#030303" filter="url(#b2)"/>
<circle cx="1197.2" cy="319.0" r="5.8" fill="#030303" filter="url(#b2)"/>
<rect x="1211.0" y="314.4" width="79.5" height="12.5" rx="6.2" fill="#030303" opacity="1" filter="url(#b2)"/>
<circle cx="1217.8" cy="319.1" r="6.2" fill="#030303" filter="url(#b2)"/>
<circle cx="1283.8" cy="319.1" r="6.2" fill="#030303" filter="url(#b2)"/>
</g>
<rect x="1038.9" y="293.9" width="259.1999999999998" height="55.60000000000002" fill="none" stroke="#000" stroke-width="4"/>
<text x="497.0" y="479.5" font-size="26.5" font-weight="bold" text-anchor="start" fill="#000">b</text>
<rect x="779" y="471.7" width="23.6" height="16" rx="1.5" fill="#231815"/>
<rect x="779" y="500" width="23.6" height="16" rx="1.5" fill="#996380"/>
<rect x="779" y="528.3" width="23.6" height="16" rx="1.5" fill="#e0161f"/>
<text x="812.8" y="487.7" font-size="27.8" font-weight="bold" text-anchor="start" fill="#111">Control</text>
<text x="812.8" y="516.7" font-size="27.8" font-weight="bold" text-anchor="start" fill="#111">NC</text>
<text x="812.8" y="546.7" font-size="27.8" font-weight="bold" text-anchor="start" fill="#111">S1</text>
<rect x="593" y="566.7" width="69" height="209.29999999999995" fill="#231815"/>
<rect x="692" y="598.3" width="69.29999999999995" height="177.70000000000005" fill="#996380"/>
<rect x="791.3" y="734" width="69.70000000000005" height="42" fill="#e0161f"/>
<line x1="627.7" y1="544.0" x2="627.7" y2="567.0" stroke="#111" stroke-width="3" stroke-linecap="butt"/>
<line x1="611.2" y1="544.0" x2="644.2" y2="544.0" stroke="#111" stroke-width="3.6" stroke-linecap="round"/>
<line x1="727.0" y1="548.3" x2="727.0" y2="601.0" stroke="#111" stroke-width="3" stroke-linecap="butt"/>
<line x1="710.0" y1="548.3" x2="744.0" y2="548.3" stroke="#111" stroke-width="3.6" stroke-linecap="round"/>
<line x1="826.3" y1="726.7" x2="826.3" y2="735.0" stroke="#111" stroke-width="3" stroke-linecap="butt"/>
<line x1="809.3" y1="726.7" x2="843.3" y2="726.7" stroke="#111" stroke-width="3.6" stroke-linecap="round"/>
<line x1="579.3" y1="526.3" x2="579.3" y2="778.3" stroke="#000" stroke-width="4.6" stroke-linecap="butt"/>
<line x1="569.3" y1="776.0" x2="870.3" y2="776.0" stroke="#000" stroke-width="4.6" stroke-linecap="butt"/>
<line x1="569.3" y1="528.3" x2="579.3" y2="528.3" stroke="#000" stroke-width="4.1" stroke-linecap="butt"/>
<text x="556.5" y="538.7" font-size="29.5" font-weight="bold" text-anchor="end" fill="#111">1.5</text>
<line x1="569.3" y1="610.7" x2="579.3" y2="610.7" stroke="#000" stroke-width="4.1" stroke-linecap="butt"/>
<text x="556.5" y="621.1" font-size="29.5" font-weight="bold" text-anchor="end" fill="#111">1</text>
<line x1="569.3" y1="694.0" x2="579.3" y2="694.0" stroke="#000" stroke-width="4.1" stroke-linecap="butt"/>
<text x="556.5" y="704.4" font-size="29.5" font-weight="bold" text-anchor="end" fill="#111">0.5</text>
<text x="556.5" y="786.4" font-size="29.5" font-weight="bold" text-anchor="end" fill="#111">0</text>
<text x="0" y="0" transform="translate(505.8 650.5) rotate(-90)" font-size="28.9" font-weight="bold" text-anchor="middle" fill="#111">Densitometric ratio</text>
<text x="826.0" y="730.0" font-size="30" font-weight="normal" text-anchor="middle" fill="#111" stroke="#111" stroke-width="0.5">*</text>
<text x="1025.5" y="479.5" font-size="26.5" font-weight="bold" text-anchor="start" fill="#000">b</text>
<rect x="1286" y="469.3" width="23.5" height="16.4" rx="1.5" fill="#231815"/>
<rect x="1286" y="498.3" width="23.5" height="16.4" rx="1.5" fill="#996380"/>
<rect x="1286" y="527.7" width="23.5" height="16.4" rx="1.5" fill="#e0161f"/>
<text x="1318.2" y="485.0" font-size="27.7" font-weight="bold" text-anchor="start" fill="#111">Control</text>
<text x="1318.2" y="513.5" font-size="27.7" font-weight="bold" text-anchor="start" fill="#111">NC</text>
<text x="1318.2" y="545.0" font-size="27.7" font-weight="bold" text-anchor="start" fill="#111">S1</text>
<rect x="1105.3" y="570" width="69.0" height="206" fill="#231815"/>
<rect x="1205.3" y="603.3" width="69.70000000000005" height="172.70000000000005" fill="#996380"/>
<rect x="1305.3" y="722.3" width="70.0" height="53.700000000000045" fill="#e0161f"/>
<line x1="1122.7" y1="568.8" x2="1157.7" y2="568.8" stroke="#231815" stroke-width="3" stroke-linecap="round"/>
<line x1="1222.7" y1="601.7" x2="1258.3" y2="601.7" stroke="#111" stroke-width="3" stroke-linecap="round"/>
<line x1="1322.7" y1="722.0" x2="1358.7" y2="722.0" stroke="#111" stroke-width="2.2" stroke-linecap="round"/>
<line x1="1090.6" y1="529.2" x2="1090.6" y2="778.3" stroke="#000" stroke-width="4.6" stroke-linecap="butt"/>
<line x1="1077.6" y1="776.0" x2="1391.0" y2="776.0" stroke="#000" stroke-width="4.6" stroke-linecap="butt"/>
<line x1="1077.6" y1="531.2" x2="1090.6" y2="531.2" stroke="#000" stroke-width="4.1" stroke-linecap="butt"/>
<text x="1064.4" y="538.8" font-size="29.5" font-weight="bold" text-anchor="end" fill="#111">1.5</text>
<line x1="1077.6" y1="609.4" x2="1090.6" y2="609.4" stroke="#000" stroke-width="4.1" stroke-linecap="butt"/>
<text x="1064.4" y="622.0" font-size="29.5" font-weight="bold" text-anchor="end" fill="#111">1</text>
<line x1="1077.6" y1="694.1" x2="1090.6" y2="694.1" stroke="#000" stroke-width="4.1" stroke-linecap="butt"/>
<text x="1064.4" y="705.2" font-size="29.5" font-weight="bold" text-anchor="end" fill="#111">0.5</text>
<text x="1064.4" y="787.0" font-size="29.5" font-weight="bold" text-anchor="end" fill="#111">0</text>
<text x="0" y="0" transform="translate(1012.5 651.0) rotate(-90)" font-size="28.9" font-weight="bold" text-anchor="middle" fill="#111">Densitometric ratio</text>
<text x="1339.3" y="722.1" font-size="28" font-weight="normal" text-anchor="middle" fill="#111" stroke="#111" stroke-width="0.5">*</text>
<text x="497.5" y="921.2" font-size="26.5" font-weight="bold" text-anchor="start" fill="#000">c</text>
<line x1="606.5" y1="855.6" x2="633.5" y2="855.6" stroke="#3a3768" stroke-width="2.4" stroke-linecap="butt"/>
<circle cx="620.0" cy="855.6" r="4.7" fill="#3a3768"/>
<line x1="606.5" y1="884.3" x2="633.5" y2="884.3" stroke="#e0161f" stroke-width="2.4" stroke-linecap="butt"/>
<circle cx="620.0" cy="884.3" r="4.7" fill="#e0161f"/>
<line x1="606.5" y1="911.7" x2="633.5" y2="911.7" stroke="#231815" stroke-width="2.4" stroke-linecap="butt"/>
<circle cx="620.0" cy="911.7" r="4.7" fill="#231815"/>
<line x1="606.5" y1="940.3" x2="633.5" y2="940.3" stroke="#ea8298" stroke-width="2.4" stroke-linecap="butt"/>
<circle cx="620.0" cy="940.3" r="4.7" fill="#ea8298"/>
<text x="638.3" y="863.0" font-size="26" font-weight="bold" text-anchor="start" fill="#111">Control</text>
<text x="638.3" y="891.3" font-size="26" font-weight="bold" text-anchor="start" fill="#111">Gastrin</text>
<text x="638.3" y="922.2" font-size="26" font-weight="bold" text-anchor="start" fill="#111">siCCKBR</text>
<text x="638.3" y="953.0" font-size="26" font-weight="bold" text-anchor="start" fill="#111">siCCKBR+Gastrin</text>
<line x1="578.7" y1="954.6" x2="578.7" y2="1213.8" stroke="#000" stroke-width="4.6" stroke-linecap="butt"/>
<line x1="569.2" y1="1204.0" x2="810.3" y2="1204.0" stroke="#000" stroke-width="4.6" stroke-linecap="butt"/>
<line x1="569.2" y1="956.6" x2="578.7" y2="956.6" stroke="#000" stroke-width="4.1" stroke-linecap="butt"/>
<line x1="569.2" y1="1038.3" x2="578.7" y2="1038.3" stroke="#000" stroke-width="4.1" stroke-linecap="butt"/>
<line x1="569.2" y1="1120.4" x2="578.7" y2="1120.4" stroke="#000" stroke-width="4.1" stroke-linecap="butt"/>
<line x1="611.3" y1="1204.0" x2="611.3" y2="1213.8" stroke="#000" stroke-width="4.1" stroke-linecap="butt"/>
<line x1="644.3" y1="1204.0" x2="644.3" y2="1213.8" stroke="#000" stroke-width="4.1" stroke-linecap="butt"/>
<line x1="677.0" y1="1204.0" x2="677.0" y2="1213.8" stroke="#000" stroke-width="4.1" stroke-linecap="butt"/>
<line x1="709.7" y1="1204.0" x2="709.7" y2="1213.8" stroke="#000" stroke-width="4.1" stroke-linecap="butt"/>
<line x1="742.7" y1="1204.0" x2="742.7" y2="1213.8" stroke="#000" stroke-width="4.1" stroke-linecap="butt"/>
<line x1="775.3" y1="1204.0" x2="775.3" y2="1213.8" stroke="#000" stroke-width="4.1" stroke-linecap="butt"/>
<line x1="808.0" y1="1204.0" x2="808.0" y2="1213.8" stroke="#000" stroke-width="4.1" stroke-linecap="butt"/>
<text x="0" y="0" transform="translate(559.6 969.2) scale(0.93 1)" font-size="29.5" font-weight="bold" text-anchor="end" fill="#111">1.2</text>
<text x="0" y="0" transform="translate(559.6 1050.9) scale(0.93 1)" font-size="29.5" font-weight="bold" text-anchor="end" fill="#111">0.8</text>
<text x="0" y="0" transform="translate(559.6 1133.0) scale(0.93 1)" font-size="29.5" font-weight="bold" text-anchor="end" fill="#111">0.4</text>
<text x="0" y="0" transform="translate(559.6 1216.6) scale(0.93 1)" font-size="29.5" font-weight="bold" text-anchor="end" fill="#111">0</text>
<text x="0" y="0" transform="translate(578.7 1246.3) scale(1.04 1)" font-size="27.3" font-weight="bold" text-anchor="middle" fill="#000">0</text>
<text x="0" y="0" transform="translate(611.3 1246.3) scale(1.04 1)" font-size="27.3" font-weight="bold" text-anchor="middle" fill="#000">1</text>
<text x="0" y="0" transform="translate(644.3 1246.3) scale(1.04 1)" font-size="27.3" font-weight="bold" text-anchor="middle" fill="#000">2</text>
<text x="0" y="0" transform="translate(677.0 1246.3) scale(1.04 1)" font-size="27.3" font-weight="bold" text-anchor="middle" fill="#000">3</text>
<text x="0" y="0" transform="translate(709.7 1246.3) scale(1.04 1)" font-size="27.3" font-weight="bold" text-anchor="middle" fill="#000">4</text>
<text x="0" y="0" transform="translate(742.7 1246.3) scale(1.04 1)" font-size="27.3" font-weight="bold" text-anchor="middle" fill="#000">5</text>
<text x="0" y="0" transform="translate(775.3 1246.3) scale(1.04 1)" font-size="27.3" font-weight="bold" text-anchor="middle" fill="#000">6</text>
<text x="0" y="0" transform="translate(808.0 1246.3) scale(1.04 1)" font-size="27.3" font-weight="bold" text-anchor="middle" fill="#000">7</text>
<text x="694.0" y="1281.7" font-size="27.5" font-weight="bold" text-anchor="middle" fill="#000">Days</text>
<text x="0" y="0" transform="translate(515.3 1081.6) rotate(-90)" font-size="29.5" font-weight="bold" text-anchor="middle" fill="#111">OD</text>
<line x1="808.0" y1="987.7" x2="808.0" y2="1006.7" stroke="#231815" stroke-width="1.8" stroke-linecap="butt"/>
<line x1="805.0" y1="987.7" x2="811.0" y2="987.7" stroke="#231815" stroke-width="1.8" stroke-linecap="butt"/>
<line x1="805.0" y1="1006.7" x2="811.0" y2="1006.7" stroke="#231815" stroke-width="1.8" stroke-linecap="butt"/>
<line x1="742.7" y1="1056.7" x2="742.7" y2="1068.3" stroke="#231815" stroke-width="1.8" stroke-linecap="butt"/>
<line x1="739.7" y1="1056.7" x2="745.7" y2="1056.7" stroke="#231815" stroke-width="1.8" stroke-linecap="butt"/>
<line x1="739.7" y1="1068.3" x2="745.7" y2="1068.3" stroke="#231815" stroke-width="1.8" stroke-linecap="butt"/>
<polyline points="578.7,1146.7 611.3,1135.0 677.0,1104.3 742.7,1062.7 808.0,997.7" fill="none" stroke="#231815" stroke-width="2.5" stroke-linejoin="round"/>
<circle cx="578.7" cy="1146.7" r="4.9" fill="#231815"/>
<circle cx="611.3" cy="1135.0" r="4.9" fill="#231815"/>
<circle cx="677.0" cy="1104.3" r="4.9" fill="#231815"/>
<circle cx="742.7" cy="1062.7" r="4.9" fill="#231815"/>
<circle cx="808.0" cy="997.7" r="4.9" fill="#231815"/>
<line x1="808.0" y1="1012.7" x2="808.0" y2="1026.0" stroke="#3a3768" stroke-width="1.8" stroke-linecap="butt"/>
<line x1="805.0" y1="1012.7" x2="811.0" y2="1012.7" stroke="#3a3768" stroke-width="1.8" stroke-linecap="butt"/>
<line x1="805.0" y1="1026.0" x2="811.0" y2="1026.0" stroke="#3a3768" stroke-width="1.8" stroke-linecap="butt"/>
<polyline points="578.7,1153.3 611.3,1152.7 677.0,1130.7 742.7,1075.0 808.0,1019.0" fill="none" stroke="#3a3768" stroke-width="2.5" stroke-linejoin="round"/>
<circle cx="578.7" cy="1153.3" r="4.9" fill="#3a3768"/>
<circle cx="611.3" cy="1152.7" r="4.9" fill="#3a3768"/>
<circle cx="677.0" cy="1130.7" r="4.9" fill="#3a3768"/>
<circle cx="742.7" cy="1075.0" r="4.9" fill="#3a3768"/>
<circle cx="808.0" cy="1019.0" r="4.9" fill="#3a3768"/>
<line x1="808.0" y1="1086.0" x2="808.0" y2="1100.0" stroke="#e0161f" stroke-width="1.8" stroke-linecap="butt"/>
<line x1="805.0" y1="1086.0" x2="811.0" y2="1086.0" stroke="#e0161f" stroke-width="1.8" stroke-linecap="butt"/>
<line x1="805.0" y1="1100.0" x2="811.0" y2="1100.0" stroke="#e0161f" stroke-width="1.8" stroke-linecap="butt"/>
<polyline points="578.7,1153.3 611.3,1148.3 677.0,1135.0 742.7,1121.7 808.0,1093.3" fill="none" stroke="#e0161f" stroke-width="2.6" stroke-linejoin="round"/>
<circle cx="578.7" cy="1153.3" r="4.9" fill="#e0161f"/>
<circle cx="611.3" cy="1148.3" r="4.9" fill="#e0161f"/>
<circle cx="677.0" cy="1135.0" r="4.9" fill="#e0161f"/>
<circle cx="742.7" cy="1121.7" r="4.9" fill="#e0161f"/>
<circle cx="808.0" cy="1093.3" r="4.9" fill="#e0161f"/>
<line x1="677.0" y1="1111.0" x2="677.0" y2="1123.3" stroke="#ea8298" stroke-width="1.8" stroke-linecap="butt"/>
<line x1="674.0" y1="1111.0" x2="680.0" y2="1111.0" stroke="#ea8298" stroke-width="1.8" stroke-linecap="butt"/>
<line x1="674.0" y1="1123.3" x2="680.0" y2="1123.3" stroke="#ea8298" stroke-width="1.8" stroke-linecap="butt"/>
<line x1="742.7" y1="1076.7" x2="742.7" y2="1090.0" stroke="#ea8298" stroke-width="1.8" stroke-linecap="butt"/>
<line x1="739.7" y1="1076.7" x2="745.7" y2="1076.7" stroke="#ea8298" stroke-width="1.8" stroke-linecap="butt"/>
<line x1="739.7" y1="1090.0" x2="745.7" y2="1090.0" stroke="#ea8298" stroke-width="1.8" stroke-linecap="butt"/>
<polyline points="578.7,1149.0 611.3,1150.0 677.0,1116.7 742.7,1083.3 808.0,1040.0" fill="none" stroke="#ea8298" stroke-width="2.6" stroke-linejoin="round"/>
<circle cx="578.7" cy="1149.0" r="4.9" fill="#ea8298"/>
<circle cx="611.3" cy="1150.0" r="4.9" fill="#ea8298"/>
<circle cx="677.0" cy="1116.7" r="4.9" fill="#ea8298"/>
<circle cx="742.7" cy="1083.3" r="4.9" fill="#ea8298"/>
<circle cx="808.0" cy="1040.0" r="4.9" fill="#ea8298"/>
<text x="677.0" y="1165.0" font-size="28" font-weight="normal" text-anchor="middle" fill="#111" stroke="#111" stroke-width="0.5">*</text>
<text x="743.7" y="1151.6" font-size="28" font-weight="normal" text-anchor="middle" fill="#111" stroke="#111" stroke-width="0.5">*</text>
<text x="807.7" y="1124.8" font-size="28" font-weight="normal" text-anchor="middle" fill="#111" stroke="#111" stroke-width="0.5">*</text>
<text x="1024.5" y="921.2" font-size="26.5" font-weight="bold" text-anchor="start" fill="#000">c</text>
<line x1="1119.0" y1="854.3" x2="1136.0" y2="854.3" stroke="#3a3768" stroke-width="1.8" stroke-linecap="butt"/>
<polygon points="1123.7,854.3 1127.7,850.3 1131.7,854.3 1127.7,858.3" fill="#3a3768"/>
<line x1="1119.0" y1="882.7" x2="1136.0" y2="882.7" stroke="#e0161f" stroke-width="1.8" stroke-linecap="butt"/>
<polygon points="1123.7,882.7 1127.7,878.7 1131.7,882.7 1127.7,886.7" fill="#e0161f"/>
<line x1="1119.0" y1="911.0" x2="1136.0" y2="911.0" stroke="#231815" stroke-width="1.8" stroke-linecap="butt"/>
<polygon points="1123.7,911.0 1127.7,907.0 1131.7,911.0 1127.7,915.0" fill="#231815"/>
<line x1="1119.0" y1="939.0" x2="1136.0" y2="939.0" stroke="#ea8298" stroke-width="1.8" stroke-linecap="butt"/>
<polygon points="1123.7,939.0 1127.7,935.0 1131.7,939.0 1127.7,943.0" fill="#ea8298"/>
<text x="1146.3" y="863.3" font-size="26.1" font-weight="bold" text-anchor="start" fill="#111">Control</text>
<text x="1146.3" y="891.5" font-size="26.1" font-weight="bold" text-anchor="start" fill="#111">Gastrin</text>
<text x="1146.3" y="920.2" font-size="26.1" font-weight="bold" text-anchor="start" fill="#111">siCCKBR</text>
<text x="1146.3" y="948.3" font-size="26.1" font-weight="bold" text-anchor="start" fill="#111">siCCKBR+Gastrin</text>
<line x1="1090.3" y1="955.9" x2="1090.3" y2="1213.8" stroke="#000" stroke-width="4.6" stroke-linecap="butt"/>
<line x1="1077.3" y1="1204.0" x2="1317.7" y2="1204.0" stroke="#000" stroke-width="4.6" stroke-linecap="butt"/>
<line x1="1077.3" y1="957.9" x2="1090.3" y2="957.9" stroke="#000" stroke-width="4.1" stroke-linecap="butt"/>
<line x1="1077.3" y1="1038.6" x2="1090.3" y2="1038.6" stroke="#000" stroke-width="4.1" stroke-linecap="butt"/>
<line x1="1077.3" y1="1120.4" x2="1090.3" y2="1120.4" stroke="#000" stroke-width="4.1" stroke-linecap="butt"/>
<line x1="1122.7" y1="1204.0" x2="1122.7" y2="1213.8" stroke="#000" stroke-width="4.1" stroke-linecap="butt"/>
<line x1="1154.5" y1="1204.0" x2="1154.5" y2="1213.8" stroke="#000" stroke-width="4.1" stroke-linecap="butt"/>
<line x1="1187.3" y1="1204.0" x2="1187.3" y2="1213.8" stroke="#000" stroke-width="4.1" stroke-linecap="butt"/>
<line x1="1219.3" y1="1204.0" x2="1219.3" y2="1213.8" stroke="#000" stroke-width="4.1" stroke-linecap="butt"/>
<line x1="1251.3" y1="1204.0" x2="1251.3" y2="1213.8" stroke="#000" stroke-width="4.1" stroke-linecap="butt"/>
<line x1="1283.7" y1="1204.0" x2="1283.7" y2="1213.8" stroke="#000" stroke-width="4.1" stroke-linecap="butt"/>
<line x1="1315.3" y1="1204.0" x2="1315.3" y2="1213.8" stroke="#000" stroke-width="4.1" stroke-linecap="butt"/>
<text x="0" y="0" transform="translate(1069.5 971.8) scale(0.95 1)" font-size="29" font-weight="bold" text-anchor="end" fill="#111">3</text>
<text x="0" y="0" transform="translate(1069.5 1052.5) scale(0.95 1)" font-size="29" font-weight="bold" text-anchor="end" fill="#111">2</text>
<text x="0" y="0" transform="translate(1069.5 1134.3) scale(0.95 1)" font-size="29" font-weight="bold" text-anchor="end" fill="#111">1</text>
<text x="0" y="0" transform="translate(1069.5 1217.9) scale(0.95 1)" font-size="29" font-weight="bold" text-anchor="end" fill="#111">0</text>
<text x="0" y="0" transform="translate(1090.0 1246.3) scale(1.04 1)" font-size="27.3" font-weight="bold" text-anchor="middle" fill="#000">0</text>
<text x="0" y="0" transform="translate(1122.7 1246.3) scale(1.04 1)" font-size="27.3" font-weight="bold" text-anchor="middle" fill="#000">1</text>
<text x="0" y="0" transform="translate(1154.5 1246.3) scale(1.04 1)" font-size="27.3" font-weight="bold" text-anchor="middle" fill="#000">2</text>
<text x="0" y="0" transform="translate(1187.3 1246.3) scale(1.04 1)" font-size="27.3" font-weight="bold" text-anchor="middle" fill="#000">3</text>
<text x="0" y="0" transform="translate(1219.3 1246.3) scale(1.04 1)" font-size="27.3" font-weight="bold" text-anchor="middle" fill="#000">4</text>
<text x="0" y="0" transform="translate(1251.3 1246.3) scale(1.04 1)" font-size="27.3" font-weight="bold" text-anchor="middle" fill="#000">5</text>
<text x="0" y="0" transform="translate(1283.7 1246.3) scale(1.04 1)" font-size="27.3" font-weight="bold" text-anchor="middle" fill="#000">6</text>
<text x="0" y="0" transform="translate(1315.3 1246.3) scale(1.04 1)" font-size="27.3" font-weight="bold" text-anchor="middle" fill="#000">7</text>
<text x="1204.3" y="1281.7" font-size="27.5" font-weight="bold" text-anchor="middle" fill="#000">Days</text>
<text x="0" y="0" transform="translate(1045.8 1082.0) rotate(-90)" font-size="29.5" font-weight="bold" text-anchor="middle" fill="#111">OD</text>
<line x1="1315.3" y1="990.0" x2="1315.3" y2="1006.0" stroke="#3a3768" stroke-width="1.6" stroke-linecap="butt"/>
<line x1="1312.8" y1="990.0" x2="1317.8" y2="990.0" stroke="#3a3768" stroke-width="1.6" stroke-linecap="butt"/>
<line x1="1312.8" y1="1006.0" x2="1317.8" y2="1006.0" stroke="#3a3768" stroke-width="1.6" stroke-linecap="butt"/>
<polyline points="1090.0,1181.7 1122.7,1174.3 1187.3,1142.7 1251.3,1086.7 1315.3,998.3" fill="none" stroke="#3a3768" stroke-width="2.5" stroke-linejoin="round"/>
<ellipse cx="1090.0" cy="1181.7" rx="2.8" ry="4.3" fill="#3a3768"/>
<ellipse cx="1122.7" cy="1174.3" rx="2.8" ry="4.3" fill="#3a3768"/>
<ellipse cx="1187.3" cy="1142.7" rx="2.8" ry="4.3" fill="#3a3768"/>
<ellipse cx="1251.3" cy="1086.7" rx="2.8" ry="4.3" fill="#3a3768"/>
<ellipse cx="1315.3" cy="998.3" rx="2.8" ry="4.3" fill="#3a3768"/>
<line x1="1315.3" y1="989.0" x2="1315.3" y2="1012.0" stroke="#231815" stroke-width="1.6" stroke-linecap="butt"/>
<line x1="1312.8" y1="989.0" x2="1317.8" y2="989.0" stroke="#231815" stroke-width="1.6" stroke-linecap="butt"/>
<line x1="1312.8" y1="1012.0" x2="1317.8" y2="1012.0" stroke="#231815" stroke-width="1.6" stroke-linecap="butt"/>
<polyline points="1090.0,1181.7 1122.7,1174.3 1187.3,1145.0 1251.3,1096.7 1315.3,1001.7" fill="none" stroke="#231815" stroke-width="2.5" stroke-linejoin="round"/>
<ellipse cx="1090.0" cy="1181.7" rx="2.8" ry="4.3" fill="#231815"/>
<ellipse cx="1122.7" cy="1174.3" rx="2.8" ry="4.3" fill="#231815"/>
<ellipse cx="1187.3" cy="1145.0" rx="2.8" ry="4.3" fill="#231815"/>
<ellipse cx="1251.3" cy="1096.7" rx="2.8" ry="4.3" fill="#231815"/>
<ellipse cx="1315.3" cy="1001.7" rx="2.8" ry="4.3" fill="#231815"/>
<line x1="1315.3" y1="1003.0" x2="1315.3" y2="1022.0" stroke="#ea8298" stroke-width="1.6" stroke-linecap="butt"/>
<line x1="1312.8" y1="1003.0" x2="1317.8" y2="1003.0" stroke="#ea8298" stroke-width="1.6" stroke-linecap="butt"/>
<line x1="1312.8" y1="1022.0" x2="1317.8" y2="1022.0" stroke="#ea8298" stroke-width="1.6" stroke-linecap="butt"/>
<line x1="1251.3" y1="1103.0" x2="1251.3" y2="1114.0" stroke="#ea8298" stroke-width="1.6" stroke-linecap="butt"/>
<line x1="1248.8" y1="1103.0" x2="1253.8" y2="1103.0" stroke="#ea8298" stroke-width="1.6" stroke-linecap="butt"/>
<line x1="1248.8" y1="1114.0" x2="1253.8" y2="1114.0" stroke="#ea8298" stroke-width="1.6" stroke-linecap="butt"/>
<polyline points="1090.0,1181.0 1122.7,1176.7 1187.3,1154.3 1251.3,1108.3 1315.3,1012.7" fill="none" stroke="#ea8298" stroke-width="2.5" stroke-linejoin="round"/>
<ellipse cx="1090.0" cy="1181.0" rx="2.8" ry="4.3" fill="#ea8298"/>
<ellipse cx="1122.7" cy="1176.7" rx="2.8" ry="4.3" fill="#ea8298"/>
<ellipse cx="1187.3" cy="1154.3" rx="2.8" ry="4.3" fill="#ea8298"/>
<ellipse cx="1251.3" cy="1108.3" rx="2.8" ry="4.3" fill="#ea8298"/>
<ellipse cx="1315.3" cy="1012.7" rx="2.8" ry="4.3" fill="#ea8298"/>
<line x1="1315.3" y1="1110.0" x2="1315.3" y2="1128.0" stroke="#e0161f" stroke-width="1.6" stroke-linecap="butt"/>
<line x1="1312.8" y1="1110.0" x2="1317.8" y2="1110.0" stroke="#e0161f" stroke-width="1.6" stroke-linecap="butt"/>
<line x1="1312.8" y1="1128.0" x2="1317.8" y2="1128.0" stroke="#e0161f" stroke-width="1.6" stroke-linecap="butt"/>
<line x1="1251.3" y1="1141.0" x2="1251.3" y2="1153.0" stroke="#e0161f" stroke-width="1.6" stroke-linecap="butt"/>
<line x1="1248.8" y1="1141.0" x2="1253.8" y2="1141.0" stroke="#e0161f" stroke-width="1.6" stroke-linecap="butt"/>
<line x1="1248.8" y1="1153.0" x2="1253.8" y2="1153.0" stroke="#e0161f" stroke-width="1.6" stroke-linecap="butt"/>
<polyline points="1090.0,1184.3 1122.7,1181.7 1187.3,1169.0 1251.3,1147.3 1315.3,1119.3" fill="none" stroke="#e0161f" stroke-width="2.8" stroke-linejoin="round"/>
<ellipse cx="1090.0" cy="1184.3" rx="2.8" ry="4.3" fill="#e0161f"/>
<ellipse cx="1122.7" cy="1181.7" rx="2.8" ry="4.3" fill="#e0161f"/>
<ellipse cx="1187.3" cy="1169.0" rx="2.8" ry="4.3" fill="#e0161f"/>
<ellipse cx="1251.3" cy="1147.3" rx="2.8" ry="4.3" fill="#e0161f"/>
<ellipse cx="1315.3" cy="1119.3" rx="2.8" ry="4.3" fill="#e0161f"/>
<text x="1186.7" y="1174.5" font-size="30" font-weight="normal" text-anchor="middle" fill="#111" stroke="#111" stroke-width="0.5">*</text>
<text x="1251.2" y="1143.0" font-size="30" font-weight="normal" text-anchor="middle" fill="#111" stroke="#111" stroke-width="0.5">*</text>
<text x="1314.5" y="1110.5" font-size="30" font-weight="normal" text-anchor="middle" fill="#111" stroke="#111" stroke-width="0.5">*</text>
<text x="474.5" y="1388.2" font-size="26.5" font-weight="bold" text-anchor="start" fill="#000">b</text>
<text x="425.2" y="1537.5" font-size="30.2" font-weight="bold" text-anchor="start" fill="#000">Control</text>
<text x="426.5" y="1619.6" font-size="30.2" font-weight="bold" text-anchor="start" fill="#000">Gastrin</text>
<rect x="543.5" y="1491.2" width="374.4" height="155.8" fill="#22b6ab"/>
<rect x="543.5" y="1490.3" width="59.5" height="156.7" fill="#21b4a9"/>
<clipPath id="ph"><rect x="543.5" y="1490.3" width="374.4" height="156.7"/></clipPath>
<g clip-path="url(#ph)"><g filter="url(#b3)">
<ellipse cx="562.8" cy="1533.7" rx="19.5" ry="21.3" fill="#0a6a64" opacity="0.65" filter="url(#b4)"/>
<ellipse cx="563.3" cy="1506.5" rx="12.0" ry="9.9" fill="#0a6a64" opacity="0.65" filter="url(#b4)"/>
<ellipse cx="631.2" cy="1526.3" rx="15.399999999999999" ry="20.2" fill="#0a6a64" opacity="0.65" filter="url(#b4)"/>
<ellipse cx="694.7" cy="1525.5" rx="11.399999999999999" ry="18.7" fill="#0a6a64" opacity="0.65" filter="url(#b4)"/>
<ellipse cx="767.8" cy="1524.0" rx="9.1" ry="12.5" fill="#0a6a64" opacity="0.65" filter="url(#b4)"/>
<ellipse cx="770.3" cy="1540.7" rx="9.0" ry="8.8" fill="#0a6a64" opacity="0.65" filter="url(#b4)"/>
<ellipse cx="836.1" cy="1532.7" rx="8.4" ry="16.0" fill="#0a6a64" opacity="0.65" filter="url(#b4)"/>
<ellipse cx="902.7" cy="1529.6" rx="7.8" ry="13.2" fill="#0a6a64" opacity="0.65" filter="url(#b4)"/>
<ellipse cx="564.2" cy="1615.6" rx="11.899999999999999" ry="11.2" fill="#0a6a64" opacity="0.65" filter="url(#b4)"/>
<ellipse cx="636.1" cy="1617.9" rx="10.799999999999999" ry="11.2" fill="#0a6a64" opacity="0.65" filter="url(#b4)"/>
<ellipse cx="703.5" cy="1617.9" rx="10.0" ry="11.8" fill="#0a6a64" opacity="0.65" filter="url(#b4)"/>
<ellipse cx="774.1" cy="1620.7" rx="11.1" ry="9.5" fill="#0a6a64" opacity="0.65" filter="url(#b4)"/>
<ellipse cx="841.8" cy="1620.7" rx="8.799999999999999" ry="9.0" fill="#0a6a64" opacity="0.65" filter="url(#b4)"/>
<ellipse cx="904.1" cy="1622.7" rx="9.2" ry="7.1" fill="#0a6a64" opacity="0.65" filter="url(#b4)"/>
<ellipse cx="563.3" cy="1531.2" rx="18.3" ry="20.8" fill="url(#tumb)" transform="rotate(0 563.3 1531.2)"/>
<ellipse cx="563.8" cy="1504" rx="10.8" ry="9.4" fill="url(#tumb)" transform="rotate(0 563.8 1504)"/>
<ellipse cx="631.7" cy="1523.8" rx="14.2" ry="19.7" fill="url(#tumb)" transform="rotate(-22 631.7 1523.8)"/>
<ellipse cx="695.2" cy="1523" rx="10.2" ry="18.2" fill="url(#tum)" transform="rotate(6 695.2 1523)"/>
<ellipse cx="768.3" cy="1521.5" rx="7.9" ry="12" fill="url(#tum)" transform="rotate(-6 768.3 1521.5)"/>
<ellipse cx="770.8" cy="1538.2" rx="7.8" ry="8.3" fill="url(#tum)" transform="rotate(0 770.8 1538.2)"/>
<ellipse cx="836.6" cy="1530.2" rx="7.2" ry="15.5" fill="url(#tum)" transform="rotate(5 836.6 1530.2)"/>
<ellipse cx="903.2" cy="1527.1" rx="6.6" ry="12.7" fill="url(#tum)" transform="rotate(5 903.2 1527.1)"/>
<ellipse cx="564.7" cy="1613.1" rx="10.7" ry="10.7" fill="url(#tump)" transform="rotate(0 564.7 1613.1)"/>
<ellipse cx="636.6" cy="1615.4" rx="9.6" ry="10.7" fill="url(#tum)" transform="rotate(15 636.6 1615.4)"/>
<ellipse cx="704" cy="1615.4" rx="8.8" ry="11.3" fill="url(#tump)" transform="rotate(20 704 1615.4)"/>
<ellipse cx="774.6" cy="1618.2" rx="9.9" ry="9" fill="url(#tum)" transform="rotate(0 774.6 1618.2)"/>
<ellipse cx="842.3" cy="1618.2" rx="7.6" ry="8.5" fill="url(#tum)" transform="rotate(0 842.3 1618.2)"/>
<ellipse cx="904.6" cy="1620.2" rx="8" ry="6.6" fill="url(#tum)" transform="rotate(-35 904.6 1620.2)"/>
<path d="M563.5,1494.5 C570,1494.5 574.8,1498.5 574.8,1504 C574.8,1508 573,1510.5 574.5,1513 C579,1518 581.8,1524 581.8,1531 C581.8,1543 573.5,1552 563.3,1552 C553,1552 544.8,1543 544.8,1531 C544.8,1524 547.5,1518 552,1513 C553.5,1510.5 552.8,1508 552.8,1504 C552.8,1498.5 557,1494.5 563.5,1494.5 Z" fill="url(#tumb)"/>
<ellipse cx="563.8" cy="1503.5" rx="9.6" ry="8.2" fill="url(#tumh)" opacity="0.9"/>
<ellipse cx="626" cy="1513.5" rx="8" ry="8.5" fill="#ddd8cb" opacity="0.75"/>
<ellipse cx="563" cy="1501" rx="6" ry="2.2" fill="#efeee2" opacity="0.8"/>
<clipPath id="t3"><ellipse cx="695.2" cy="1523" rx="10.2" ry="18.2" transform="rotate(6 695.2 1523)"/></clipPath>
<g clip-path="url(#t3)"><rect x="680" y="1522" width="34" height="26" fill="#3d1122" transform="rotate(-24 695 1522)"/><rect x="680" y="1519.5" width="34" height="5" fill="#7a3a45" opacity="0.6" transform="rotate(-24 695 1522)"/></g>
</g></g>
<text x="1027.0" y="1378.3" font-size="26.5" font-weight="bold" text-anchor="start" fill="#000">c</text>
<text x="1178" y="1421.7" font-size="28.6" fill="#111"><tspan font-style="italic" font-weight="normal">p</tspan><tspan font-weight="bold">=0.0456</tspan></text>
<polyline points="1163.7,1458.3 1163.7,1436.7 1312,1436.7 1312,1458.3" fill="none" stroke="#111" stroke-width="3.2" stroke-linejoin="round" stroke-linecap="round"/>
<line x1="1090.0" y1="1447.3" x2="1090.0" y2="1696.2" stroke="#000" stroke-width="4.4" stroke-linecap="butt"/>
<line x1="1077.7" y1="1694.0" x2="1385.3" y2="1694.0" stroke="#000" stroke-width="4.4" stroke-linecap="butt"/>
<line x1="1077.7" y1="1449.3" x2="1090.0" y2="1449.3" stroke="#000" stroke-width="3.7" stroke-linecap="butt"/>
<text x="0" y="0" transform="translate(1069.6 1460.5) scale(0.93 1)" font-size="29.5" font-weight="bold" text-anchor="end" fill="#111">0.6</text>
<line x1="1077.7" y1="1531.0" x2="1090.0" y2="1531.0" stroke="#000" stroke-width="3.7" stroke-linecap="butt"/>
<text x="0" y="0" transform="translate(1069.6 1542.2) scale(0.93 1)" font-size="29.5" font-weight="bold" text-anchor="end" fill="#111">0.4</text>
<line x1="1077.7" y1="1611.7" x2="1090.0" y2="1611.7" stroke="#000" stroke-width="3.7" stroke-linecap="butt"/>
<text x="0" y="0" transform="translate(1069.6 1622.9) scale(0.93 1)" font-size="29.5" font-weight="bold" text-anchor="end" fill="#111">0.2</text>
<text x="0" y="0" transform="translate(1069.6 1705.2) scale(0.93 1)" font-size="29.5" font-weight="bold" text-anchor="end" fill="#111">0</text>
<line x1="1163.7" y1="1694.0" x2="1163.7" y2="1704.0" stroke="#000" stroke-width="3.7" stroke-linecap="butt"/>
<line x1="1310.3" y1="1694.0" x2="1310.3" y2="1704.0" stroke="#000" stroke-width="3.7" stroke-linecap="butt"/>
<text x="0" y="0" transform="translate(1009.3 1572.0) rotate(-90)" font-size="30.4" font-weight="bold" text-anchor="middle" fill="#111">Weight of tumors (g)</text>
<circle cx="1162.7" cy="1481.0" r="5.2" fill="#231815"/>
<circle cx="1162.7" cy="1566.7" r="5.2" fill="#231815"/>
<circle cx="1162.7" cy="1611.7" r="5.2" fill="#231815"/>
<circle cx="1145.3" cy="1623.3" r="5.2" fill="#231815"/>
<circle cx="1162.7" cy="1631.7" r="5.2" fill="#231815"/>
<circle cx="1162.7" cy="1656.7" r="5.2" fill="#231815"/>
<line x1="1112.7" y1="1595.0" x2="1212.7" y2="1595.0" stroke="#231815" stroke-width="2.4" stroke-linecap="butt"/>
<line x1="1163.0" y1="1569.0" x2="1163.0" y2="1621.0" stroke="#231815" stroke-width="2.4" stroke-linecap="butt"/>
<line x1="1150.0" y1="1569.0" x2="1176.0" y2="1569.0" stroke="#231815" stroke-width="2.4" stroke-linecap="butt"/>
<line x1="1150.0" y1="1621.0" x2="1176.0" y2="1621.0" stroke="#231815" stroke-width="2.4" stroke-linecap="butt"/>
<circle cx="1309.3" cy="1635.7" r="5.2" fill="#e0161f"/>
<circle cx="1292.7" cy="1656.0" r="5.2" fill="#e0161f"/>
<circle cx="1309.3" cy="1661.0" r="5.2" fill="#e0161f"/>
<circle cx="1292.7" cy="1672.3" r="5.2" fill="#e0161f"/>
<circle cx="1326.0" cy="1672.3" r="5.2" fill="#e0161f"/>
<circle cx="1309.3" cy="1676.7" r="5.2" fill="#e0161f"/>
<line x1="1259.3" y1="1662.3" x2="1359.3" y2="1662.3" stroke="#e0161f" stroke-width="2.4" stroke-linecap="butt"/>
<line x1="1309.3" y1="1656.0" x2="1309.3" y2="1668.3" stroke="#e0161f" stroke-width="2.4" stroke-linecap="butt"/>
<line x1="1296.0" y1="1656.0" x2="1322.7" y2="1656.0" stroke="#e0161f" stroke-width="2.4" stroke-linecap="butt"/>
<line x1="1296.0" y1="1668.3" x2="1322.7" y2="1668.3" stroke="#e0161f" stroke-width="2.4" stroke-linecap="butt"/>
<text x="0" y="0" transform="translate(1176.8 1725.3) rotate(-45)" font-size="29" font-weight="bold" text-anchor="end" fill="#111">Control</text>
<text x="0" y="0" transform="translate(1323.3 1725.3) rotate(-45)" font-size="29" font-weight="bold" text-anchor="end" fill="#111">Gastrin</text>
</svg></body></html>
